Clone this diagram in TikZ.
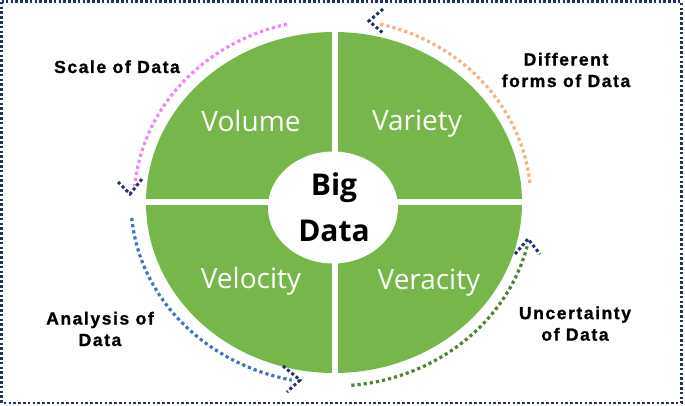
\documentclass[tikz,border=0pt]{standalone}
\usepackage{fontspec}
\usetikzlibrary{calc}
\setmainfont{Open Sans}
\newfontfamily\labfont[LetterSpace=9,FakeBold=1.2]{Liberation Sans}
\definecolor{wedge}{RGB}{118,182,74}
\definecolor{navy}{RGB}{31,48,110}
\definecolor{pinkd}{RGB}{250,128,245}
\definecolor{orangd}{RGB}{244,177,131}
\definecolor{blued}{RGB}{68,114,196}
\definecolor{greend}{RGB}{84,130,53}
\begin{document}
\begin{tikzpicture}[x=1pt,y=-1pt,
  quad/.style={text=white, font=\fontsize{28}{32}\selectfont, inner sep=0, anchor=base},
  lab/.style={font=\labfont\bfseries\fontsize{17.5}{21.5}\selectfont, align=center, inner sep=0},
  dotarc/.style={line width=3.2pt, dash pattern=on 3.2pt off 3pt},
  tipdots/.style={draw=navy, line width=3pt, dash pattern=on 3pt off 2.5pt}]
\useasboundingbox (0,0) rectangle (685,406);
% border
\draw[navy, line width=2.6pt, dash pattern=on 2.6pt off 2.2pt] (1.8,1.8) rectangle (681.5,403);
% wheel
\fill[wedge] (334,202.5) ellipse[x radius=188, y radius=170.5];
\fill[white] (140,199.5) rectangle (530,205.5);
\fill[white] (331.5,25) rectangle (337.5,380);
\fill[white] (333,207.5) ellipse[x radius=65, y radius=56];
% quadrant labels
\node[quad] (vol) at (251,132) {Volume};
\node[quad] (var) at (417,130.5) {Variety};
\node[quad] (vel) at (251,288) {Velocity};
\node[quad] (ver) at (429,289) {Veracity};
\node[font=\bfseries\fontsize{30}{46}\selectfont, align=center, inner sep=0] (big) at (334,207.5) {Big\\Data};
% outer labels
\node[lab, anchor=base] (scale) at (117,73) {Scale of Data};
\node[lab] (forms) at (566,70) {Different\\forms of Data};
\node[lab] (anal) at (100,329) {Analysis of\\Data};
\node[lab] (unc) at (575,323.6) {Uncertainty\\of Data};
% dotted arcs (ellipse centre (334,202), rx 200, ry 183)
\coordinate (c) at (334,202);
\coordinate (pinkS) at ($(c)+(-103.6:200 and 183)$);
\draw[dotarc, pinkd] (pinkS) arc[start angle=-103.6, end angle=-175, x radius=200, y radius=183];
\coordinate (orS) at ($(c)+(-6:197 and 183)$);
\draw[dotarc, orangd] (orS) arc[start angle=-6, end angle=-77, x radius=197, y radius=183];
\coordinate (blS) at ($(c)+(-185:203 and 183)$);
\draw[dotarc, blued] (blS) arc[start angle=-185, end angle=-258, x radius=203, y radius=182];
\coordinate (grS) at ($(c)+(-275:199 and 184)$);
\draw[dotarc, greend] (grS) arc[start angle=-275, end angle=-347, x radius=199, y radius=184];
% arrow chevrons
\coordinate (p1) at (118,182); \coordinate (pt) at (130,194); \coordinate (p2) at (142,179);
\draw[tipdots] (p1) -- (pt) -- (p2);
\coordinate (o1) at (383,9); \coordinate (ot) at (369,21); \coordinate (o2) at (383,33);
\draw[tipdots] (o1) -- (ot) -- (o2);
\coordinate (b1) at (283,366); \coordinate (bt) at (300,380); \coordinate (b2) at (287,392);
\draw[tipdots] (b1) -- (bt) -- (b2);
\coordinate (g1) at (515,254); \coordinate (gt) at (528,239); \coordinate (g2) at (540,254);
\draw[tipdots] (g1) -- (gt) -- (g2);
\end{tikzpicture}
\end{document}
